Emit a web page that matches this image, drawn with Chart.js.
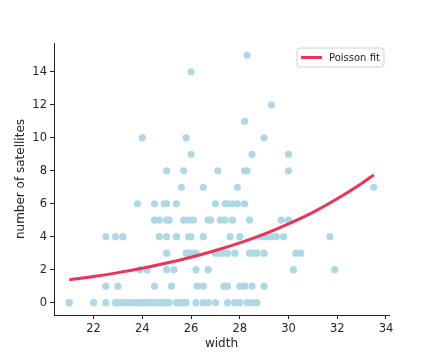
<!DOCTYPE html>
<html>
<head>
<meta charset="utf-8">
<script src="https://cdn.jsdelivr.net/npm/chart.js@4.4.1/dist/chart.umd.min.js"></script>
<style>
html,body{margin:0;padding:0;background:#fff;}
#wrap{width:432px;height:360px;}
</style>
</head>
<body>
<div id="wrap"><canvas id="c" width="432" height="360"></canvas></div>
<script>
const width = [
  21.0,22.0,22.5,22.9,23.0,23.1,23.2,23.4,23.5,23.7,23.8,23.9,24.0,24.1,24.2,24.3,24.5,24.6,24.7,24.8,24.9,25.0,25.1,25.4,25.5,25.6,25.7,25.8,26.2,26.5,26.7,27.0,27.5,27.8,28.0,28.3,28.5,28.7,
  22.5,23.0,24.5,25.2,26.25,26.5,27.35,27.5,28.0,28.2,28.5,29.0,
  23.9,24.2,25.0,25.3,26.2,26.7,30.2,31.9,
  25.0,25.8,25.9,26.0,26.2,27.0,27.1,27.3,27.5,27.8,28.4,28.5,28.7,29.0,30.3,30.5,
  22.5,22.9,23.2,24.7,25.0,25.4,25.9,26.0,26.5,27.6,28.0,28.9,29.1,29.3,29.5,29.8,31.7,
  24.5,24.7,25.0,25.1,25.7,25.9,26.1,26.7,26.8,27.2,27.4,27.7,28.4,29.7,30.0,
  23.8,24.5,24.9,25.0,25.4,27.0,27.4,27.5,27.7,27.9,28.2,
  25.6,26.5,27.9,33.5,
  25.0,25.7,27.1,28.2,28.3,30.0,
  26.0,28.5,30.0,
  24.0,25.8,29.0,
  28.2,
  29.3,
  26.0,
  28.3
];
const satellites = [
  0,0,0,0,0,0,0,0,0,0,0,0,0,0,0,0,0,0,0,0,0,0,0,0,0,0,0,0,0,0,0,0,0,0,0,0,0,0,
  1,1,1,1,1,1,1,1,1,1,1,1,
  2,2,2,2,2,2,2,2,
  3,3,3,3,3,3,3,3,3,3,3,3,3,3,3,3,
  4,4,4,4,4,4,4,4,4,4,4,4,4,4,4,4,4,
  5,5,5,5,5,5,5,5,5,5,5,5,5,5,5,
  6,6,6,6,6,6,6,6,6,6,6,
  7,7,7,7,
  8,8,8,8,8,8,
  9,9,9,
  10,10,10,
  11,
  12,
  14,
  15
];
// Poisson fit curve
const fitWidth = [21,22,23,24,25,26,27,28,29,30,31,32,33,33.5];
const fitMean  = [1.38,1.58,1.82,2.09,2.40,2.75,3.16,3.63,4.16,4.78,5.48,6.30,7.23,7.75];
// Tick labels
const xTicks = [22,24,26,28,30,32,34];
const yTicks = [0,2,4,6,8,10,12,14];
const legendLabel = 'Poisson fit';

const FONT = 'DejaVu Sans';
const TXT = '#262626';
const FIT_COLOR = '#ef3358';

const legendPlugin = {
  id: 'mplLegend',
  afterDraw(chart) {
    const ctx = chart.ctx;
    const a = chart.chartArea;
    const x = a.right - 92, y = a.top + 5, w = 87, h = 19;
    ctx.save();
    ctx.beginPath();
    const r = 3;
    ctx.moveTo(x + r, y);
    ctx.lineTo(x + w - r, y); ctx.quadraticCurveTo(x + w, y, x + w, y + r);
    ctx.lineTo(x + w, y + h - r); ctx.quadraticCurveTo(x + w, y + h, x + w - r, y + h);
    ctx.lineTo(x + r, y + h); ctx.quadraticCurveTo(x, y + h, x, y + h - r);
    ctx.lineTo(x, y + r); ctx.quadraticCurveTo(x, y, x + r, y);
    ctx.closePath();
    ctx.fillStyle = 'rgba(255,255,255,0.8)';
    ctx.fill();
    ctx.strokeStyle = '#d0d0d0';
    ctx.lineWidth = 1;
    ctx.stroke();
    ctx.beginPath();
    ctx.moveTo(x + 4, y + 9.5);
    ctx.lineTo(x + 25, y + 9.5);
    ctx.strokeStyle = FIT_COLOR;
    ctx.lineWidth = 3;
    ctx.stroke();
    ctx.fillStyle = TXT;
    ctx.font = '10px "' + FONT + '"';
    ctx.textBaseline = 'middle';
    ctx.textAlign = 'left';
    ctx.fillText(legendLabel, x + 32, y + 10);
    ctx.restore();
  }
};

new Chart(document.getElementById('c'), {
  data: {
    datasets: [
      {
        type: 'line',
        label: legendLabel,
        data: fitWidth.map((v, i) => ({x: v, y: fitMean[i]})),
        borderColor: FIT_COLOR,
        borderWidth: 3,
        pointRadius: 0,
        cubicInterpolationMode: 'monotone',
        fill: false,
        order: 0
      },
      {
        type: 'scatter',
        label: 'data',
        data: width.map((v, i) => ({x: v, y: satellites[i]})),
        backgroundColor: '#add8e6',
        borderWidth: 0,
        pointRadius: 3.6,
        order: 1
      }
    ]
  },
  options: {
    responsive: false,
    animation: false,
    devicePixelRatio: 1,
    layout: {padding: {left: 10, top: 43, right: 43, bottom: 6}},
    plugins: {legend: {display: false}, tooltip: {enabled: false}},
    scales: {
      x: {
        type: 'linear',
        min: 20.375, max: 34.125,
        afterBuildTicks: (s) => { s.ticks = xTicks.map(v => ({value: v})); },
        afterFit: (s) => { s.height = 39; },
        grid: {drawOnChartArea: false, drawTicks: true, tickLength: 4, color: '#262626', lineWidth: 1},
        border: {display: true, color: '#262626', width: 1},
        ticks: {color: TXT, font: {family: FONT, size: 11.5}, padding: 3, maxRotation: 0, autoSkip: false},
        title: {display: true, text: 'width', color: TXT, font: {family: FONT, size: 12}, padding: {top: 2, bottom: 3}}
      },
      y: {
        type: 'linear',
        min: -0.75, max: 15.75,
        afterBuildTicks: (s) => { s.ticks = yTicks.map(v => ({value: v})); },
        afterFit: (s) => { s.width = 44; },
        grid: {drawOnChartArea: false, drawTicks: true, tickLength: 4, color: '#262626', lineWidth: 1},
        border: {display: true, color: '#262626', width: 1},
        ticks: {color: TXT, font: {family: FONT, size: 11.5}, padding: 3, autoSkip: false},
        title: {display: true, text: 'number of satellites', color: TXT, font: {family: FONT, size: 12}, padding: {top: 4, bottom: 4}}
      }
    }
  },
  plugins: [legendPlugin]
});
</script>
</body>
</html>
